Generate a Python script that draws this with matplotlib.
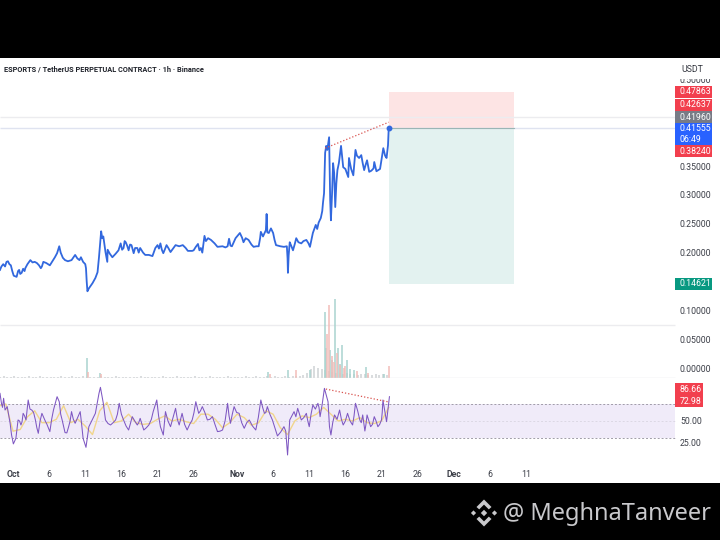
import numpy as np
import matplotlib
matplotlib.use("Agg")
import matplotlib.pyplot as plt
from matplotlib.patches import Rectangle, Polygon

plt.rcParams['font.family'] = ['Roboto', 'DejaVu Sans']

W, H = 720, 540

price_points = [(-1.8,.170),(-1.6,.176),(-1.35,.180),(-1.1,.176),(-.9,.184),(-.7,.185),(-.5,.180),(-.3,.178),(-.1,.168),(.1,.160),(.3,.159),(.5,.158),(.7,.168),(.85,.170),(1,.163),(1.2,.165),(1.4,.172),(1.6,.168),(1.7,.173),(2,.180),(2.4,.187),(2.7,.183),(3,.184),(3.3,.182),(3.6,.178),(3.85,.173),(4.0,.176),(4.2,.184),(4.6,.182),(5.1,.178),(5.5,.186),(5.8,.192),(6.1,.199),(6.4,.211),(6.6,.200),(6.9,.191),(7.2,.187),(7.6,.185),(8.1,.187),(8.6,.196),(8.9,.190),(9.2,.187),(9.4,.192),(9.7,.184),(10.0,.180),(10.1,.173),(10.2,.150),(10.3,.133),(10.5,.138),(11,.147),(11.4,.156),(11.7,.166),(11.9,.192),(12.2,.237),(12.35,.225),(12.5,.228),(12.8,.201),(13.05,.184),(13.1,.205),(13.4,.198),(13.75,.192),(14.2,.198),(14.6,.204),(14.9,.216),(15.1,.205),(15.3,.208),(15.45,.220),(15.6,.218),(15.8,.212),(16,.204),(16.2,.214),(16.4,.213),(16.7,.199),(16.9,.208),(17.2,.208),(17.4,.200),(17.6,.208),(18,.200),(18.3,.196),(18.8,.196),(19.3,.194),(19.7,.208),(20,.213),(20.2,.207),(20.4,.216),(20.6,.205),(20.8,.199),(21,.205),(21.25,.213),(21.5,.208),(21.8,.201),(22.2,.208),(22.5,.213),(23,.211),(23.5,.213),(23.9,.208),(24.2,.203),(24.8,.203),(25,.204),(25.3,.210),(25.6,.215),(25.8,.204),(26,.208),(26.2,.200),(26.5,.229),(26.7,.220),(27,.225),(27.4,.222),(27.9,.216),(28.3,.210),(29,.211),(29.4,.209),(29.7,.211),(29.9,.224),(30.1,.212),(30.3,.211),(30.8,.225),(31.4,.234),(31.7,.226),(31.9,.218),(32.2,.225),(32.6,.222),(33,.214),(33.3,.210),(33.7,.211),(34,.211),(34.2,.225),(34.3,.236),(34.6,.228),(35,.239),(35.1,.267),(35.2,.235),(35.4,.234),(35.7,.242),(36,.234),(36.2,.222),(36.4,.213),(37,.211),(37.5,.210),(37.9,.211),(38,.190),(38.05,.165),(38.15,.195),(38.3,.218),(38.5,.212),(38.75,.204),(39,.215),(39.2,.225),(39.5,.218),(39.9,.216),(40.2,.220),(40.6,.222),(40.9,.216),(41.1,.210),(41.5,.234),(41.9,.248),(42.1,.241),(42.3,.252),(42.6,.260),(42.8,.272),(42.9,.286),(43.05,.303),(43.2,.373),(43.35,.385),(43.5,.378),(43.75,.400),(43.9,.291),(44,.256),(44.15,.300),(44.3,.355),(44.45,.338),(44.6,.279),(44.75,.320),(44.9,.343),(45.1,.355),(45.4,.385),(45.7,.348),(46,.345),(46.4,.331),(46.5,.364),(46.8,.345),(47.1,.334),(47.4,.378),(47.6,.368),(47.9,.364),(48.2,.369),(48.4,.355),(48.6,.343),(48.8,.352),(49,.360),(49.3,.340),(49.6,.342),(49.9,.346),(50,.357),(50.3,.341),(50.8,.345),(51.25,.381),(51.5,.368),(51.7,.364),(51.9,.386),(52,.416)]
price_days = [p[0] for p in price_points]
price_vals = [p[1] for p in price_points]

price_ticks = [0.50, 0.35, 0.30, 0.25, 0.20, 0.10, 0.05, 0.00]
entry_price, target_price, stop_price = 0.41555, 0.14621, 0.47863
box_days = [52, 69.4]
level_lines = [0.435, 0.41555]
pivot_days = [43.2, 52]
pivot_price = [0.381, 0.426]

vol_base = [1,2,1,1,2,1,1,1,2,1,1,2,1,1,1,1,1,2,1,1,2,1,1,2,1,1,1,1,2,1,1,1,2,1,1,1,1,1,1,2,1,1,1,1,1,2,1,1,1,2,1,1,1,1,2,1,1,1,2,1,1,1,1,2,1,1,1,1,2,1,1,2,1,1,2,1,2,1,1,2,1,2,2,2,3,5,9,12,10,9,8,7,6,5,5,4,5,4,4,3,4,4,3,3,4,3,4,3]
spike_up_days = [10.2,12.0,35.3,38.0,41.1,43.2,43.35,43.9,44.1,44.6,45.0,45.2,45.6,46.2,46.6,47.2,48.9,51.3]
spike_up_vals = [20,5,6,8,8,66,30,28,18,79,30,14,33,18,9,8,11,4]
spike_dn_days = [10.4,12.2,35.5,39.2,43.5,43.75,44.2,44.4,44.9,45.3,45.8,46.0,47.6,49.2,52.0]
spike_dn_vals = [6,4,4,8,44,73,22,16,25,13,10,12,7,5,12]

rsi_main = [(-1.8,82.5),(-1.6,70.8),(-1.3,76.7),(-1.1,62.9),(-.8,66.9),(-.4,47.3),(-.2,33.5),(.05,23),(.4,29.6),(.7,51.2),(1.1,45.3),(1.4,59),(1.8,51.2),(2.1,74.7),(2.6,62.9),(3.1,51.2),(3.5,35.5),(4,59),(4.4,51.2),(5.1,37.5),(5.6,62.9),(6.1,78.6),(6.4,72.7),(6.8,51.2),(7.2,36.3),(7.7,43.3),(8.1,61),(8.6,47.3),(9.3,61),(9.7,29.6),(10.1,19),(10.5,43.3),(11.4,59),(11.9,82.5),(12.1,89.6),(12.5,70.8),(12.8,51.2),(13.5,45.3),(14.2,51.2),(14.7,70.8),(15.3,51.2),(16,39.4),(16.5,55.1),(17.2,45.3),(17.6,53.1),(18.1,39.4),(18.8,45.3),(19.4,61),(19.9,74.7),(20.4,43.3),(20.8,33.5),(21.1,61),(21.8,43.3),(22.5,64.9),(23,45.3),(23.4,59),(24.1,39.4),(24.8,51.2),(25.3,72.7),(25.7,59),(26.2,66.9),(26.9,51.2),(27.6,55.1),(28.3,37.5),(29,39.4),(29.7,70.8),(30.1,47.3),(30.6,66.9),(31.3,59),(32,41.4),(32.7,51.2),(33.6,39.4),(34.3,74.7),(34.8,59),(35.2,66.9),(35.9,51.2),(36.6,32.4),(37.5,43.3),(38,10),(38.3,51.2),(38.9,61),(39.4,64.9),(39.9,51.2),(40.6,59),(41,43.3),(41.5,68.8),(42.2,70.8),(42.5,55.1),(43.1,88.4),(43.6,72.7),(43.8,43.3),(44,33.5),(44.5,57.1),(45.2,62.9),(45.7,45.3),(46.3,59),(47,45.3),(47.4,70.8),(48,51.2),(48.4,57.1),(48.7,38.2),(49,57.1),(49.5,43.3),(50,55.1),(50.5,43.3),(51,51.2),(51.2,74.7),(51.7,49.2),(52.1,78.6)]
rsi_wiggle = [(-1.45,66),(.55,40),(.9,50),(1.25,49),(1.6,56),(2.35,64),(2.85,60),(3.3,42),(3.75,50),(4.7,46),(5.35,52),(6.6,58),(7.45,36),(7.9,50),(8.35,52),(8.95,54),(9.5,46),(11,52),(13.15,47),(13.85,48),(14.45,58),(15,58),(15.65,44),(16.25,47),(16.85,50),(17.4,48),(17.85,46),(18.45,42),(19.15,52),(20.15,56),(21.45,50),(22.15,54),(22.75,52),(23.2,52),(23.75,46),(24.45,46),(25.05,60),(25.95,62),(26.55,60),(27.25,52),(27.95,46),(28.65,38),(29.35,50),(29.9,56),(30.35,58),(30.95,60),(31.65,48),(32.35,48),(33.15,44),(33.95,54),(34.55,66),(35,60),(35.55,58),(36.25,42),(37.05,37),(37.75,38),(38.6,56),(39.15,55),(39.65,58),(40.25,54),(40.8,50),(41.25,58),(41.85,64),(42.35,66),(42.8,70),(44.25,48),(44.85,52),(45.45,52),(46,50),(46.65,50),(47.2,56),(47.7,62),(48.2,48),(48.85,46),(49.25,50),(49.75,46),(50.25,50),(50.75,46),(51.1,60),(51.45,62),(51.9,64)]
rsi_all = sorted(rsi_main + rsi_wiggle)
rsi_days = [p[0] for p in rsi_all]
rsi_vals = [p[1] for p in rsi_all]
ma_days = [-1.8,-1,0,1,2,3,4,5,6,7,8,9,10,11,12,13,14,15,16,17,18,19,20,21,22,23,24,25,26,27,28,29,30,31,32,33,34,35,36,37,38,39,40,41,42,43,44,45,46,47,48,49,50,51,52]
ma_vals = [68,70,38,40,55,62,48,48,52,68,48,52,44,34,62,72,48,50,58,48,46,47,52,56,50,52,49,47,58,58,52,42,48,58,54,45,48,62,58,42,34,50,56,54,58,66,58,50,52,50,54,48,47,50,66]
rsi_levels = [70, 50, 30]
rsi_ticks = [50, 25]
rsi_pivot_days = [43.3, 52]
rsi_pivot_vals = [87.6, 72.4]

date_ticks = [0,5,10,15,20,25,31,36,41,46,51,56,61,66,71]
date_labels = ['Oct','6','11','16','21','26','Nov','6','11','16','21','26','Dec','6','11']

BLUE = '#3268de'
DARK = '#3c3f48'

def axes_px(x0, y0, x1, y1):
    return [x0 / W, 1 - y1 / H, (x1 - x0) / W, (y1 - y0) / H]

fig = plt.figure(figsize=(7.2, 5.4), dpi=100, facecolor='black')
day_lim = (-1.8, 97.85)
right = 91.6

# price pane
ax = fig.add_axes(axes_px(0, 58, 720, 378))
ax.set_xlim(*day_lim)
ax.set_ylim(-0.0173, 0.5373)
ax.set_facecolor('white')
for s in ax.spines.values():
    s.set_visible(False)
ax.set_xticks([])

ax.hlines(level_lines[0], day_lim[0], right, color='#ececef', lw=1)
ax.hlines(level_lines[1], day_lim[0], right, color='#dfe3f0', lw=1)
ax.hlines(0.075, day_lim[0], right, color='#ececef', lw=1)
ax.fill_between(box_days, entry_price, stop_price, color='#fde4e4', lw=0, zorder=1)
ax.fill_between(box_days, target_price, entry_price, color='#e3f2f0', lw=0, zorder=1)
ax.plot(box_days, [entry_price, entry_price], color='#9ab5b5', lw=0.8, zorder=2)
ax.plot(price_days, price_vals, color=BLUE, lw=1.3, zorder=3, solid_joinstyle='round')
ax.plot(price_days[-1:], price_vals[-1:], 'o', color=BLUE, ms=3.2, zorder=4)
ax.plot(pivot_days, pivot_price, color='#d9534f', lw=0.9, ls=(0, (1, 1.6)), zorder=3)

# volume, sharing the lower part of the price pane
axv = ax.twinx()
axv.set_ylim(0, 320)
axv.set_xlim(*day_lim)
axv.axis('off')
base_days = -1.8 + 0.5 * np.arange(len(vol_base))
axv.vlines(base_days, 0, vol_base, color='#d2d5d8', lw=1.2)
axv.vlines(spike_up_days, 0, spike_up_vals, color='#a9d3cf', lw=1.1)
axv.vlines(spike_dn_days, 0, spike_dn_vals, color='#f2bdb9', lw=1.1)
axv.hlines(0.5, day_lim[0], right, color='#e4e4e8', lw=1)

ax.yaxis.tick_right()
ax.set_yticks(price_ticks)
ax.set_yticklabels([f'{v:.5f}' for v in price_ticks], fontsize=6.3, color=DARK)
ax.tick_params(axis='y', length=0, pad=-28.8)

# RSI pane
ar = fig.add_axes(axes_px(0, 378, 720, 483))
ar.set_xlim(*day_lim)
ar.set_ylim(-23, 100.6)
ar.set_facecolor('white')
for s in ar.spines.values():
    s.set_visible(False)
ar.fill_between([day_lim[0], right], rsi_levels[2], rsi_levels[0], color='#f0ebf9', lw=0)
for lv, c in zip(rsi_levels, ['#a09ca8', '#dcd8e4', '#a09ca8']):
    ar.hlines(lv, day_lim[0], right, color=c, lw=0.7, ls=(0, (2, 2)))
ar.plot(ma_days, ma_vals, color='#f0d58c', lw=1.0, zorder=3)
ar.plot(rsi_days, rsi_vals, color='#7e57c2', lw=0.75, zorder=4)
ar.plot(rsi_pivot_days, rsi_pivot_vals, color='#d9534f', lw=0.9, ls=(0, (1, 1.6)), zorder=5)
ar.yaxis.tick_right()
ar.set_yticks(rsi_ticks)
ar.set_yticklabels([f'{v:.2f}' for v in rsi_ticks], fontsize=6.3, color=DARK)
ar.tick_params(axis='y', length=0, pad=-28.8)
ar.set_xticks(date_ticks)
ar.set_xticklabels(date_labels, fontsize=6.3, color=DARK)
ar.tick_params(axis='x', length=0, pad=-9.6)
for lab in ar.get_xticklabels():
    if lab.get_text() in ('Oct', 'Nov', 'Dec'):
        lab.set_fontweight('bold')

# overlay in pixels
ov = fig.add_axes([0, 0, 1, 1])
ov.set_xlim(0, W)
ov.set_ylim(H, 0)
ov.axis('off')
ov.patch.set_alpha(0)

def badge(y0, y1, color, lines, x0=675, x1=712):
    ov.add_patch(Rectangle((x0, y0), x1 - x0, y1 - y0, color=color, lw=0, zorder=5))
    n = len(lines)
    for i, t in enumerate(lines):
        yc = y0 + (y1 - y0) * (i + 0.5) / n
        ov.text(x0 + 5, yc, t, color='white', fontsize=6.3, va='center', ha='left', zorder=6)

ov.add_patch(Rectangle((676, 60), 36, 19, color='white', lw=0, zorder=5))
ov.text(692, 69, 'USDT', fontsize=6.3, color='#33363f', ha='center', va='center', zorder=6)
badge(86, 97.5, '#f23f4e', ['0.47863'])
badge(98.5, 110.5, '#f23f4e', ['0.42637'])
badge(111, 123, '#787b86', ['0.41960'])
badge(123, 144.5, '#2962ff', ['0.41555', '06:49'])
badge(145, 157, '#f23f4e', ['0.38240'])
badge(278, 290, '#089981', ['0.14621'])
badge(383, 407, '#f23f4e', ['86.66', '72.98'], x1=703)

ov.text(4, 69.5, 'ESPORTS / TetherUS PERPETUAL CONTRACT · 1h · Binance', fontsize=5.3,
        color='#1f222a', fontweight='bold', ha='left', va='center', zorder=6)

# watermark
GR = '#c9c9cc'
cx, cy = 484, 513
def diamond(x, y, r):
    ov.add_patch(Polygon([(x - r, y), (x, y - r), (x + r, y), (x, y + r)], color=GR, lw=0, zorder=6))
diamond(cx, cy, 3.2)
diamond(cx - 10.5, cy, 2.6)
diamond(cx + 10.5, cy, 2.6)
ov.add_patch(Polygon([(cx, cy - 13.5), (cx + 7.5, cy - 6), (cx + 4.8, cy - 3.6), (cx, cy - 8.4), (cx - 4.8, cy - 3.6), (cx - 7.5, cy - 6)], color=GR, lw=0, zorder=6))
ov.add_patch(Polygon([(cx, cy + 13.5), (cx + 7.5, cy + 6), (cx + 4.8, cy + 3.6), (cx, cy + 8.4), (cx - 4.8, cy + 3.6), (cx - 7.5, cy + 6)], color=GR, lw=0, zorder=6))
ov.text(503, 514, '@ MeghnaTanveer', fontsize=17, family='Noto Sans', color=GR, ha='left', va='center', zorder=6)

fig.savefig('out.png', dpi=100, facecolor='black')
